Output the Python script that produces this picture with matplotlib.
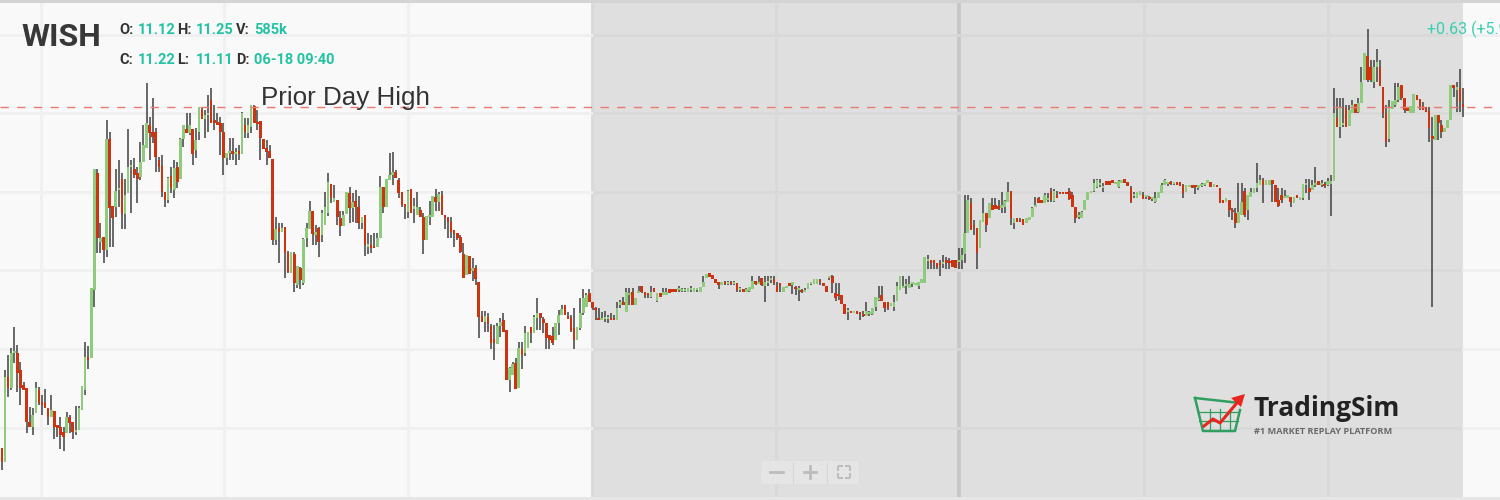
import numpy as np
import matplotlib
matplotlib.use('Agg')
import matplotlib.pyplot as plt
from matplotlib.patches import Polygon, FancyBboxPatch, Rectangle

# one minute bars, values are chart levels (no price axis shown)
opens = [52,38,123,112,147,147,130,115,112,78,73,87,110,98,97,92,83,89,75,73,68,67,83,78,68,70,90,110,143,142,
 210,327,258,263,250,361,294,293,310,321,286,307,333,331,327,323,338,352,375,368,368,340,334,308,300,324,310,333,321,361,
 371,367,371,350,368,390,381,385,400,380,378,377,368,342,347,349,346,349,346,
 375,367,373,394,377,379,361,352,349,341,260,272,268,273,247,227,246,215,232,217,262,271,289,265,272,265,275,287,316,298,
 300,282,274,286,307,292,299,293,277,285,253,255,254,253,262,313,293,320,325,328,320,308,296,288,311,291,285,290,283,260,
 283,283,303,298,305,285,282,278,270,267,263,246,225,244,229,232,218,184,178,183,
 174,161,156,174,180,170,120,125,137,112,151,147,152,173,167,182,187,181,177,165,164,160,177,185,195,184,182,172,160,172,
 187,193,207,198,192,182,180,181,181,182,182,180,195,198,188,205,208,195,207,214,208,207,203,212,199,207,205,205,211,211,
 211,210,209,209,208,210,208,210,208,213,222,227,225,221,218,215,217,216,217,216,
 217,210,211,208,209,211,219,216,222,214,217,220,221,214,217,208,212,217,215,212,210,209,208,211,216,216,216,219,217,214,
 222,224,207,205,205,196,188,189,187,189,187,185,184,186,186,193,200,205,198,198,194,193,199,210,212,214,212,216,215,214,
 217,217,239,240,240,237,236,236,240,238,240,240,238,240,246,267,297,275,272,252,
 278,287,282,295,295,294,292,293,298,309,277,282,280,281,277,280,283,293,302,300,297,300,309,299,305,308,308,308,309,305,
 293,283,282,290,300,307,309,313,315,312,319,319,320,316,313,317,321,318,312,304,302,305,305,303,302,301,298,302,307,315,
 316,317,316,318,318,315,308,313,315,314,312,314,315,317,318,313,315,312,300,298,
 300,290,287,277,285,309,290,303,307,312,315,320,315,315,320,315,300,305,302,302,303,297,305,300,302,315,312,310,315,319,315,316,315,
 316,319,382,373,375,392,374,387,396,388,397,420,444,433,418,433,433,413,387,361,391,395,400,415,402,393,387,387,405,401,
 394,393,389,364,360,385,375,368,372,380,415,410,412,396]
highs = [52,130,145,152,173,155,138,118,112,93,92,118,113,105,111,92,105,89,75,83,73,88,85,78,94,94,114,158,154,212,
 331,331,277,263,380,368,294,331,340,327,321,371,340,342,333,358,375,417,383,402,372,343,345,308,323,333,340,338,362,375,
 387,387,371,372,393,393,390,405,412,395,387,383,377,347,362,362,352,355,388,
 382,382,395,395,390,379,361,360,355,341,283,277,277,273,249,248,248,234,233,262,277,299,289,275,273,290,308,327,316,315,
 300,289,289,308,313,307,310,304,283,285,267,265,267,267,324,313,321,347,348,330,322,308,296,310,311,302,308,293,287,284,
 299,304,311,308,309,285,283,283,270,267,265,257,245,244,242,235,218,189,189,187,
 176,175,177,182,187,170,133,138,142,158,158,174,168,173,185,202,187,183,177,165,173,177,190,195,195,188,185,192,173,202,
 211,207,211,198,193,192,188,189,185,187,185,198,200,203,212,212,212,202,214,214,208,207,214,212,207,207,212,212,211,211,
 211,214,212,212,212,214,212,212,213,224,226,227,225,221,218,218,219,219,219,219,
 217,213,211,212,213,224,219,224,222,224,224,224,224,218,217,213,214,217,218,214,214,211,212,217,218,221,221,221,217,214,
 224,225,217,217,205,196,192,189,189,189,187,189,198,189,192,203,214,214,198,198,197,205,218,224,224,221,224,218,217,218,
 221,243,245,240,240,237,240,245,243,242,240,240,252,252,305,305,302,280,272,280,
 302,287,297,302,302,300,308,300,318,309,282,282,282,281,282,283,293,303,303,300,307,307,312,311,309,308,308,308,312,308,
 293,288,289,300,308,309,321,321,321,317,319,319,320,318,320,320,321,318,314,308,308,309,308,305,304,303,308,308,317,321,
 318,319,318,318,318,316,315,315,315,315,315,317,317,320,318,316,315,312,300,302,
 300,292,292,317,317,312,305,312,312,337,325,322,320,320,320,315,312,312,310,305,303,303,305,303,316,321,321,320,333,319,320,318,322,
 325,412,402,402,402,395,395,400,396,402,433,447,471,440,440,451,440,413,395,400,399,417,417,415,402,393,394,406,405,401,
 398,393,393,383,385,385,380,372,380,415,415,418,431,412]
lows = [30,38,103,110,137,108,95,110,67,73,65,87,95,85,92,75,83,61,63,51,49,67,67,61,65,70,90,105,131,142,
 193,247,247,237,243,253,253,283,293,271,271,307,287,322,297,320,338,352,340,357,328,328,303,293,297,307,302,312,321,353,
 367,365,335,342,360,381,362,368,377,370,375,345,325,335,340,340,335,340,346,
 362,362,367,377,370,340,351,335,342,255,255,237,268,222,227,227,208,212,211,215,253,271,255,255,243,258,275,284,297,298,
 275,264,274,286,277,278,277,271,271,244,246,247,252,253,262,287,293,320,315,322,302,293,281,282,287,277,285,283,246,260,
 275,283,289,289,285,271,262,262,253,260,247,222,225,226,219,215,162,178,168,168,
 151,140,156,163,168,120,108,125,111,112,131,144,152,157,167,170,170,167,151,151,155,160,165,185,185,181,168,151,160,170,
 185,193,198,190,180,180,180,178,177,180,180,180,192,195,188,195,195,195,207,207,202,202,202,208,198,203,205,205,207,208,
 208,208,208,208,208,208,208,208,208,213,222,223,221,217,211,215,215,215,215,215,
 208,208,208,208,208,211,215,216,214,198,214,217,215,208,208,208,212,214,206,205,199,207,208,211,215,216,216,215,214,208,
 220,207,199,200,196,186,180,187,187,186,180,183,184,184,185,189,199,199,188,190,194,189,199,210,212,206,212,213,215,211,
 217,217,231,231,231,231,224,232,231,231,233,232,231,231,237,267,270,265,231,252,
 278,268,282,290,291,290,287,287,298,275,271,278,278,275,277,280,283,293,297,297,297,298,298,298,302,306,306,306,300,293,
 277,281,282,290,300,307,308,312,313,308,315,315,317,316,312,317,317,314,297,302,302,305,301,301,300,299,297,302,307,315,
 314,315,315,315,314,302,308,313,312,306,310,313,314,317,313,313,313,297,297,298,
 283,280,272,277,285,283,280,303,307,308,315,297,315,315,298,298,293,297,302,302,293,297,302,300,300,307,300,310,313,315,313,312,314,
 284,319,373,362,373,373,374,387,387,387,397,420,418,418,412,418,414,382,353,358,391,393,398,400,387,389,387,387,400,390,
 390,388,358,193,360,360,362,368,372,380,403,388,388,383]
closes = [38,123,112,147,148,127,112,110,78,73,85,112,97,95,92,83,90,73,72,65,63,83,77,68,70,92,114,143,140,212,
 331,262,262,250,361,292,282,309,312,286,305,333,334,325,321,338,355,377,367,363,343,333,308,300,322,312,332,318,361,375,
 367,375,346,360,393,381,385,387,377,377,375,368,342,347,349,346,348,346,387,
 368,375,395,377,376,362,351,348,342,260,271,268,272,247,228,248,217,234,220,261,272,289,266,268,258,287,293,318,302,302,
 283,274,285,308,292,298,293,277,283,255,256,252,252,262,313,293,321,325,328,322,307,295,293,309,287,294,293,283,260,284,
 285,304,298,306,285,282,278,268,266,262,248,222,245,226,232,221,183,178,184,176,
 157,157,174,178,168,120,132,136,111,152,145,167,168,167,183,187,182,177,162,160,157,177,185,191,185,181,170,160,173,187,
 202,205,198,192,190,180,182,183,182,180,180,192,198,195,208,207,195,202,208,208,205,205,208,208,207,203,208,208,207,208,
 208,211,210,210,212,211,212,211,213,218,226,223,221,217,215,218,216,217,216,217,
 210,211,208,211,213,219,216,217,215,218,219,222,217,208,214,213,214,214,218,211,211,208,210,217,218,221,221,218,214,208,
 223,217,202,204,196,186,189,187,188,186,186,184,189,187,192,203,201,199,192,192,197,198,214,224,213,215,216,217,217,218,
 221,243,240,237,237,233,235,238,237,237,233,232,240,245,267,300,270,273,247,280,
 287,275,297,290,291,291,295,299,308,282,282,278,278,275,282,283,292,295,297,297,305,301,300,309,302,306,306,306,301,293,
 282,285,288,300,308,309,317,320,316,313,315,315,317,317,319,320,317,314,298,305,308,309,301,303,301,302,302,308,315,320,
 317,316,318,315,314,307,315,315,312,313,315,315,316,320,313,316,313,297,297,302,
 290,288,277,288,298,285,305,308,312,317,320,315,320,320,316,298,294,300,303,305,298,303,302,303,316,316,308,315,316,315,317,314,319,
 319,387,373,392,377,373,390,395,387,397,418,447,420,420,433,438,414,387,358,393,399,400,413,402,390,389,394,406,400,393,
 390,388,372,361,385,377,368,372,380,415,412,413,398,393]

prior_day_high = 393
price_levels = [465, 387, 308, 230, 151, 72]

ticker_name = 'WISH'
ohlc_row1 = [('O:', '11.12', 119), ('H:', '11.25', 177), ('V:', '585k', 236)]
ohlc_row2 = [('C:', '11.22', 119), ('L:', '11.11', 177), ('D:', '06-18 09:40', 236)]
change_text = '+0.63 (+5.9%)'

grid_x = [41, 224, 408, 592, 776, 1144, 1328]
session_x = 959
shade_from, shade_to = 592, 1463

up_color = '#8fcb7c'
down_color = '#cc3311'
wick_color = '#404040'
teal = '#22c3a3'

fig = plt.figure(figsize=(15, 5), dpi=100, facecolor='#f9f9f9')

# pixel layer for the page furniture
bg = fig.add_axes([0, 0, 1, 1], zorder=0)
bg.set_xlim(0, 1500)
bg.set_ylim(500, 0)
bg.axis('off')
bg.add_patch(Rectangle((shade_from, 0), shade_to - shade_from, 500, fc='#dfdfdf', ec='none', zorder=1))
for gx in grid_x:
    bg.plot([gx, gx], [0, 500], color='#d9d9d9' if gx >= shade_from else '#f0f0f0', lw=2.0,
            zorder=1.5, solid_capstyle='butt')
bg.plot([session_x, session_x], [0, 500], color='#c6c6c6', lw=2.6, zorder=1.7)
bg.add_patch(Rectangle((0, 0), 1500, 3, fc='#d4d4d4', ec='none', zorder=2))
bg.add_patch(Rectangle((0, 497), 1500, 3, fc='#e6e6e6', ec='none', zorder=2))

# candles
ax = fig.add_axes([0, 0, 1, 1], zorder=1)
ax.patch.set_alpha(0)
n_bars = len(opens)
pitch = (1463 - 2) / (n_bars - 1)
ax.set_xlim(-2 / pitch, (1500 - 2) / pitch)
ax.set_ylim(0, 500)
ax.axis('off')

for lev in price_levels:
    ax.plot([-2 / pitch, shade_from / pitch], [lev, lev], color='#f0f0f0', lw=2.0, zorder=1)
    ax.plot([shade_from / pitch, (shade_to - 2) / pitch], [lev, lev], color='#d9d9d9', lw=2.0, zorder=1)
    ax.plot([(shade_to - 2) / pitch, 1500 / pitch], [lev, lev], color='#f0f0f0', lw=2.0, zorder=1)

idx = np.arange(n_bars)
o = np.array(opens)
c = np.array(closes)
ax.vlines(idx, lows, highs, color=wick_color, lw=1.1, zorder=2)
body_bottom = np.minimum(o, c)
body_height = np.maximum(np.abs(c - o), 2.5)
is_up = c >= o
ax.bar(idx, body_height, bottom=body_bottom, width=0.85,
       color=[up_color if u else down_color for u in is_up], linewidth=0, zorder=3)
ax.plot([-2 / pitch, 1500 / pitch], [prior_day_high] * 2, color='#e77b72', lw=1.0,
        dashes=(6, 6), zorder=4)

# texts and logo, pixel coordinates
top = fig.add_axes([0, 0, 1, 1], zorder=2)
top.patch.set_alpha(0)
top.set_xlim(0, 1500)
top.set_ylim(500, 0)
top.axis('off')
top.text(21, 37, ticker_name, family='Roboto', weight='bold', fontsize=23, color='#383838', va='center')
for row, y_txt in ((ohlc_row1, 30), (ohlc_row2, 59.5)):
    for label, value, x_txt in row:
        top.text(x_txt, y_txt, label, family='Roboto', weight='bold', fontsize=10.5, color='#333333', va='center')
        top.text(x_txt + 18.5, y_txt, value, family='Roboto', weight='bold', fontsize=10.5, color=teal, va='center')
top.text(261, 98.5, 'Prior Day High', family='Liberation Sans', fontsize=18.7, color='#333333', va='center')
top.text(1427, 29, change_text, family='Roboto', fontsize=11.5, color='#37cfb0', va='center')

top.add_patch(FancyBboxPatch((761, 461), 98, 23, boxstyle='round,pad=0,rounding_size=4', fc='#e5e5e5', ec='none'))
top.plot([793, 793], [463, 483], color='#d6d6d6', lw=0.8)
top.plot([827, 827], [463, 483], color='#d6d6d6', lw=0.8)
top.plot([770, 783], [472, 472], color='#bcbcbc', lw=2)
top.plot([804, 816], [472, 472], color='#bcbcbc', lw=2)
top.plot([810, 810], [466, 478], color='#bcbcbc', lw=2)
for xs, ys in (([838, 838, 842], [470, 466, 466]), ([846, 850, 850], [466, 466, 470]),
               ([838, 838, 842], [474, 478, 478]), ([846, 850, 850], [478, 478, 474])):
    top.plot(xs, ys, color='#bcbcbc', lw=1.4)

green = '#2f9e5f'
top.plot([1195, 1240], [398, 403], color=green, lw=1.8)
top.plot([1195, 1203, 1235, 1240], [398, 431, 431, 410], color=green, lw=1.8)
for gy in (412, 421):
    top.plot([1199, 1238], [gy, gy], color=green, lw=0.9)
for gx in (1210, 1220, 1230):
    top.plot([gx, gx], [409, 431], color=green, lw=0.9)
top.plot([1204, 1213, 1220, 1236], [426, 419, 423, 404], color='#e8251f', lw=2.2)
top.add_patch(Polygon([[1245, 394], [1231, 398], [1241, 407]], fc='#e8251f', ec='none', zorder=5))
top.text(1253, 408, 'TradingSim', family='Open Sans', weight='bold', fontsize=19, color='#222222', va='center')
top.text(1254, 431, '#1 MARKET REPLAY PLATFORM', family='Open Sans', weight='bold', fontsize=6.6, color='#6a6a6a', va='center')

fig.savefig('out.png', dpi=100, facecolor=fig.get_facecolor())
plt.close('all')
